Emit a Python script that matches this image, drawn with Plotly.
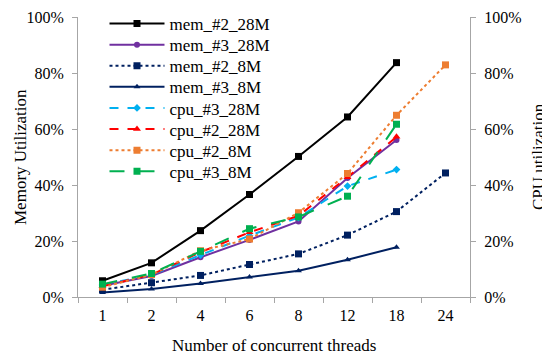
import plotly.graph_objects as go

threads = ["1", "2", "4", "6", "8", "12", "18", "24"]

mem_2_28M = [5.8, 12.2, 23.7, 36.6, 50.2, 64.3, 83.7]
mem_3_28M = [4.0, 7.5, 14.2, 20.4, 27.0, 42.5, 56.1]
mem_2_8M = [2.6, 5.1, 7.7, 11.6, 15.4, 22.1, 30.5, 44.3]
mem_3_8M = [1.6, 2.9, 4.8, 7.1, 9.4, 13.3, 17.8]
cpu_3_28M = [4.3, 7.9, 15.0, 21.9, 28.4, 39.6, 45.5]
cpu_2_28M = [3.8, 8.0, 16.0, 23.1, 29.0, 42.8, 57.2]
cpu_2_8M = [3.5, 8.0, 16.5, 20.7, 30.1, 44.1, 64.9, 82.9]
cpu_3_8M = [4.6, 8.4, 16.3, 24.4, 28.6, 36.0, 61.7]

series = [
    ("mem_#2_28M", mem_2_28M, "#000000", "solid", "square", 7, "y"),
    ("mem_#3_28M", mem_3_28M, "#7030A0", "solid", "circle", 6, "y"),
    ("mem_#2_8M", mem_2_8M, "#002060", "dot", "square", 7, "y"),
    ("mem_#3_8M", mem_3_8M, "#002060", "solid", "triangle-up", 6, "y"),
    ("cpu_#3_28M", cpu_3_28M, "#00B0F0", "dash", "diamond", 6, "y2"),
    ("cpu_#2_28M", cpu_2_28M, "#FF0000", "dash", "triangle-up", 7, "y2"),
    ("cpu_#2_8M", cpu_2_8M, "#ED7D31", "dot", "square", 7, "y2"),
    ("cpu_#3_8M", cpu_3_8M, "#00B050", "longdash", "square", 7, "y2"),
]

font = "Times New Roman, Liberation Serif, DejaVu Serif, serif"

# figure is placed 8px from the page corner by the default body margin
W, H = 542, 349
L, R, T, B = 70, 80, 9, 60
plot_h = H - T - B

fig = go.Figure()
legend_layouts = {}
for i, (name, vals, color, dash, sym, size, yax) in enumerate(series):
    lname = "legend" if i == 0 else f"legend{i + 1}"
    fig.add_trace(go.Scatter(
        x=threads[:len(vals)], y=vals, name=name, mode="lines+markers",
        line=dict(color=color, width=2, dash=dash),
        marker=dict(symbol=sym, size=size, color=color),
        yaxis=yax, legend=lname,
    ))
    item_y = 16 + 21.1 * i  # figure-pixel centre of the legend row
    legend_layouts[lname] = dict(
        x=0.0676, y=(H - B - item_y) / plot_h,
        xanchor="left", yanchor="middle",
        bgcolor="rgba(0,0,0,0)", font=dict(size=17, family=font),
        itemwidth=55,
    )

axis_common = dict(showgrid=False, showline=True, linecolor="#A6A6A6",
                   linewidth=1, ticks="outside", ticklen=5,
                   tickcolor="#A6A6A6", automargin=False,
                   ticklabeloverflow="allow",
                   tickfont=dict(size=16, family=font))
fig.update_layout(
    width=W, height=H,
    margin=dict(l=L, r=R, t=T, b=B, autoexpand=False),
    paper_bgcolor="white", plot_bgcolor="white",
    font=dict(family=font, size=16, color="#000000"),
    showlegend=True,
    xaxis=dict(type="category", categoryorder="array", categoryarray=threads,
               range=[-0.5, 7.5], tickson="boundaries", ticklabelstandoff=4,
               **axis_common),
    yaxis=dict(range=[0, 100], dtick=20, ticksuffix="%", zeroline=False,
               ticklabelstandoff=5, **axis_common),
    yaxis2=dict(range=[0, 100], dtick=20, ticksuffix="%", zeroline=False,
                overlaying="y", side="right", ticklabelstandoff=5,
                **axis_common),
    annotations=[
        dict(text="Number of concurrent threads", xref="paper", yref="paper",
             x=0.5, y=(H - B - 337) / plot_h, xanchor="center",
             yanchor="middle", showarrow=False,
             font=dict(size=17, family=font)),
        dict(text="Memory Utilization", xref="paper", yref="paper",
             x=(12 - L) / 392, y=0.5, xanchor="center", yanchor="middle",
             textangle=-90, showarrow=False, font=dict(size=17, family=font)),
        dict(text="CPU utilization", xref="paper", yref="paper",
             x=(530 - L) / 392, y=0.5, xanchor="center", yanchor="middle",
             textangle=-90, showarrow=False, font=dict(size=17, family=font)),
    ],
    **legend_layouts,
)

fig.write_html("out.html")
